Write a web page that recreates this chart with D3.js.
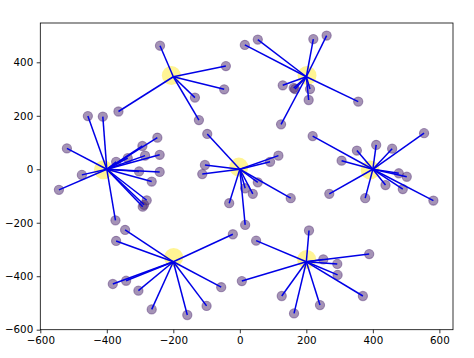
<!DOCTYPE html>
<html>
<head>
<meta charset="utf-8">
<script src="https://cdn.jsdelivr.net/npm/d3@7"></script>
<style>
  html, body { margin: 0; padding: 0; background: #fff; }
  svg { display: block; }
  text { font-family: "DejaVu Sans", sans-serif; }
</style>
</head>
<body>
<svg id="chart" width="474" height="358"></svg>
<script>
// Cluster anchor points (where the blue lines meet)
const centerX = [-200, 200, -400, 0, 400, -200, 200];
const centerY = [346, 346, 0, 0, 0, -346, -346];
// Yellow markers (cluster means)
const meanX = [-206, 202, -410, -3, 392, -199, 201];
const meanY = [351, 351, -2, 8, -3, -330, -337];
// Member points
const pointGroup = [
  0,0,0,0,0,0,
  1,1,1,1,1,1,1,1,1,1,1,
  2,2,2,2,2,2,2,2,2,2,2,2,2,2,2,2,2,2,
  3,3,3,3,3,3,3,3,3,3,3,
  4,4,4,4,4,4,4,4,4,4,4,4,4,
  5,5,5,5,5,5,5,5,5,5,
  6,6,6,6,6,6,6,6,6,6,6
];
const pointX = [
  -240, -42, -47, -135, -123, -365,
  15, 54, 221, 261, 129, 162, 166, 211, 207, 356, 124,
  -457, -412, -520, -248, -293, -241, -285, -337, -372, -475, -544, -303, -241, -265, -280, -288, -292, -374,
  -98, 116, 91, -105, -113, 54, 16, 39, 153, -32, 16,
  219, 554, 352, 410, 458, 306, 478, 502, 438, 490, 269, 377, 582,
  -345, -372, -21, -382, -342, -305, -56, -265, -100, -158,
  208, 49, 389, 251, 293, 294, 6, 126, 370, 241, 163
];
const pointY = [
  462, 386, 299, 268, 184, 216,
  465, 485, 487, 500, 314, 304, 300, 300, 259, 253, 168,
  199, 197, 78, 118, 87, 54, 51, 42, 28, -21, -77, -8, -10, -46, -116, -133, -140, -191,
  132, 51, 28, 16, -18, -49, -71, -92, -108, -127, -208,
  124, 135, 70, 91, 77, 32, -15, -28, -59, -74, -92, -108, -117,
  -227, -268, -243, -429, -417, -454, -441, -524, -511, -545,
  -229, -267, -317, -337, -354, -395, -418, -474, -474, -508, -539
];
const xTicks = [-600, -400, -200, 0, 200, 400, 600];
const yTicks = [-600, -400, -200, 0, 200, 400];

const svg = d3.select("#chart");
const padL = 40.3, padT = 23, padR = 453, padB = 329.7;
const x = d3.scaleLinear().domain([-600, 641]).range([padL, padR]);
const y = d3.scaleLinear().domain([-600, 547]).range([padB, padT]);

const g = svg.append("g");

// yellow means
g.selectAll("circle.mean").data(meanX.map((v, i) => [v, meanY[i]])).enter()
  .append("circle").attr("class", "mean")
  .attr("cx", d => x(d[0])).attr("cy", d => y(d[1])).attr("r", 9.5)
  .attr("fill", "rgba(255,235,60,0.55)");

// purple points
const pts = pointX.map((v, i) => ({x: v, y: pointY[i], g: pointGroup[i]}));
g.selectAll("circle.pt").data(pts).enter()
  .append("circle").attr("class", "pt")
  .attr("cx", d => x(d.x)).attr("cy", d => y(d.y)).attr("r", 4.6)
  .attr("fill", "rgba(75,40,110,0.5)")
  .attr("stroke", "rgba(75,40,110,0.45)").attr("stroke-width", 1.1);

// blue lines
g.selectAll("line.link").data(pts).enter()
  .append("line").attr("class", "link")
  .attr("x1", d => x(centerX[d.g])).attr("y1", d => y(centerY[d.g]))
  .attr("x2", d => x(d.x)).attr("y2", d => y(d.y))
  .attr("stroke", "#0000e6").attr("stroke-width", 1.5);

// axes
const fmt = d => d < 0 ? "\u2212" + Math.abs(d) : String(d);
const xAxis = svg.append("g").attr("transform", `translate(0,${padB})`)
  .call(d3.axisBottom(x).tickValues(xTicks).tickFormat(fmt).tickSize(3.6).tickPadding(3.5).tickSizeOuter(0));
const yAxis = svg.append("g").attr("transform", `translate(${padL},0)`)
  .call(d3.axisLeft(y).tickValues(yTicks).tickFormat(fmt).tickSize(3.6).tickPadding(3.5).tickSizeOuter(0));
[xAxis, yAxis].forEach(a => {
  a.select(".domain").remove();
  a.selectAll("text").attr("font-family", "DejaVu Sans, sans-serif").attr("font-size", 10.3).attr("fill", "#000");
  a.selectAll("line").attr("stroke", "#000").attr("stroke-width", 0.8);
});

svg.append("rect").attr("x", padL).attr("y", padT)
  .attr("width", padR - padL).attr("height", padB - padT)
  .attr("fill", "none").attr("stroke", "#000").attr("stroke-width", 0.8);
</script>
</body>
</html>
